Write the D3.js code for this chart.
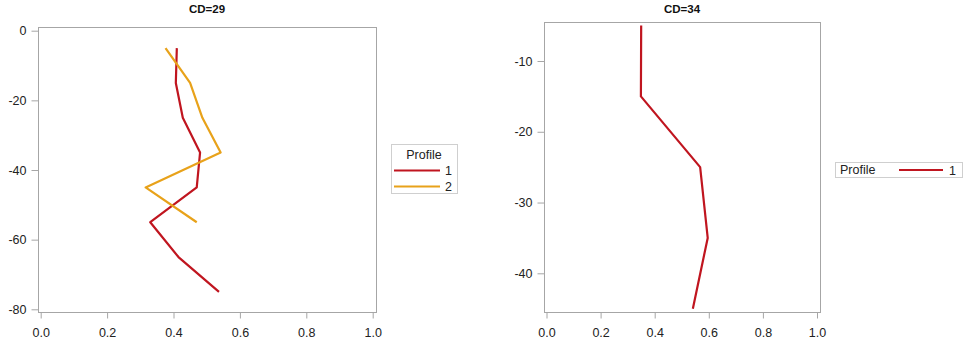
<!DOCTYPE html>
<html><head><meta charset="utf-8">
<script src="https://cdn.jsdelivr.net/npm/d3@7"></script>
<style>
body{margin:0;background:#fff;}
text{font-family:"Liberation Sans",Arial,sans-serif;}
</style></head>
<body>
<svg id="c" width="976" height="346"></svg>
<script>
// Data
const depths29 = [-5,-15,-25,-35,-45,-55,-65,-75];
const profile1_29 = [0.41,0.407,0.428,0.48,0.47,0.33,0.415,0.537];
const depths29b = [-5,-15,-25,-35,-45,-55];
const profile2_29 = [0.376,0.45,0.487,0.542,0.316,0.47];
const depths34 = [-5,-15,-25,-35,-45];
const profile1_34 = [0.35,0.349,0.568,0.596,0.541];
const xTicks = [0,0.2,0.4,0.6,0.8,1.0];
const yTicks29 = [0,-20,-40,-60,-80];
const yTicks34 = [-10,-20,-30,-40];
const colors = {"1":"#c0151f","2":"#e8a21a"};

const svg = d3.select("#c");
const frameColor = "#a6a6a6";

function panel(cfg){
  const g = svg.append("g");
  const x = d3.scaleLinear().domain([0,1]).range(cfg.xr);
  const y = d3.scaleLinear().domain(cfg.yd).range(cfg.yr);
  const f = cfg.frame;
  g.append("rect").attr("x",f[0]+0.5).attr("y",f[1]+0.5)
    .attr("width",f[2]-f[0]).attr("height",f[3]-f[1])
    .attr("fill","none").attr("stroke",frameColor).attr("stroke-width",1);
  const ya = g.append("g").attr("transform",`translate(${f[0]+0.5},0)`)
    .call(d3.axisLeft(y).tickValues(cfg.yTicks).tickFormat(d3.format("d")).tickSize(7).tickPadding(5));
  const xa = g.append("g").attr("transform",`translate(0,${f[3]+0.5})`)
    .call(d3.axisBottom(x).tickValues(xTicks).tickFormat(d3.format(".1f")).tickSize(6).tickPadding(10));
  [ya,xa].forEach(a=>{
    a.select(".domain").remove();
    a.selectAll("line").attr("stroke",frameColor);
    a.selectAll("text").attr("fill","#222").style("font-size","12.5px");
  });
  ya.selectAll("text").text(d=>d<0?"-"+Math.abs(d):d);
  g.append("text").attr("x",(f[0]+f[2])/2).attr("y",12.5).attr("text-anchor","middle")
    .style("font-size","11.5px").style("font-weight","bold").attr("fill","#111").text(cfg.title);
  const line = d3.line().x(d=>x(d[0])).y(d=>y(d[1]));
  cfg.series.forEach(s=>{
    g.append("path").datum(d3.zip(s.vals,s.depths)).attr("d",line)
      .attr("fill","none").attr("stroke",colors[s.name]).attr("stroke-width",2.2)
      .attr("stroke-linejoin","round");
  });
}

panel({xr:[40.7,372.7], yd:[0,-80], yr:[30.7,309.3], frame:[38,27,376,312],
  yTicks:yTicks29, title:"CD=29",
  series:[{name:"1",vals:profile1_29,depths:depths29},{name:"2",vals:profile2_29,depths:depths29b}]});
panel({xr:[546.5,817], yd:[-10,-40], yr:[61,273.3], frame:[544,22,820,312],
  yTicks:yTicks34, title:"CD=34",
  series:[{name:"1",vals:profile1_34,depths:depths34}]});

// Legend left
const lg = svg.append("g");
lg.append("rect").attr("x",391.5).attr("y",144.5).attr("width",66).attr("height",49)
  .attr("fill","#fff").attr("stroke","#cfcfcf");
lg.append("text").attr("x",424).attr("y",159).attr("text-anchor","middle").style("font-size","12.5px").attr("fill","#222").text("Profile");
["1","2"].forEach((k,i)=>{
  const yy = 170.5 + i*16;
  lg.append("line").attr("x1",394).attr("x2",440).attr("y1",yy).attr("y2",yy)
    .attr("stroke",colors[k]).attr("stroke-width",2.2);
  lg.append("text").attr("x",445).attr("y",yy+4.5).style("font-size","12.5px").attr("fill","#222").text(k);
});
// Legend right
const lg2 = svg.append("g");
lg2.append("rect").attr("x",835.5).attr("y",162.5).attr("width",127).attr("height",15)
  .attr("fill","#fff").attr("stroke","#cfcfcf");
lg2.append("text").attr("x",840).attr("y",174).style("font-size","12.5px").attr("fill","#222").text("Profile");
lg2.append("line").attr("x1",899).attr("x2",943).attr("y1",170).attr("y2",170)
  .attr("stroke",colors["1"]).attr("stroke-width",2.2);
lg2.append("text").attr("x",949).attr("y",174.5).style("font-size","12.5px").attr("fill","#222").text("1");
</script>
</body></html>
